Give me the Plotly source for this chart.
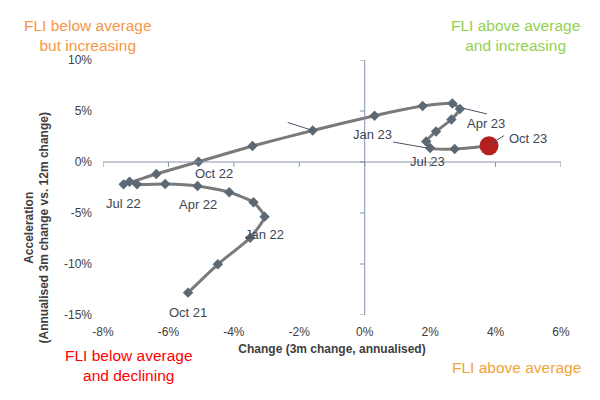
import plotly.graph_objects as go

# FLI momentum path, Oct 21 - Oct 23 (values in %)
months = ["Oct 21", "Nov 21", "Dec 21", "Jan 22", "Feb 22", "Mar 22", "Apr 22", "May 22",
          "Jun 22", "Jul 22", "Aug 22", "Sep 22", "Oct 22", "Nov 22", "Dec 22", "Jan 23",
          "Feb 23", "Mar 23", "Apr 23", "May 23", "Jun 23", "Jul 23", "Aug 23", "Sep 23",
          "Oct 23"]
change = [-5.40, -4.49, -3.50, -3.06, -3.40, -4.14, -5.11, -6.10, -6.96, -7.19, -7.37, -6.37,
          -5.08, -3.43, -1.59, 0.30, 1.77, 2.68, 2.91, 2.65, 2.18, 1.88, 2.00, 2.75, 3.80]
accel = [-12.81, -10.03, -7.42, -5.36, -3.95, -2.97, -2.35, -2.16, -2.19, -1.93, -2.19, -1.18,
         0.03, 1.57, 3.09, 4.54, 5.49, 5.74, 5.20, 4.17, 2.99, 2.01, 1.37, 1.27, 1.60]

x_ticks = [-8, -6, -4, -2, 0, 2, 4, 6]
y_ticks = [-15, -10, -5, 0, 5, 10]

# labelled months with pixel offsets (dx right, dy up)
labels = [("Oct 21", 0, -20), ("Jan 22", 0, -18), ("Apr 22", 0, -19), ("Jul 22", -6, -22),
          ("Oct 22", 15, -12), ("Jan 23", -2, -19), ("Apr 23", 26, -15), ("Jul 23", 1, -19.5),
          ("Oct 23", 39, 7)]
# leader lines: month, x0, y0, x1, y1 in pixels from the point
leaders = [("Dec 22", -25, 8, 0, 0), ("Aug 23", -37, 6, -3, 0),
           ("Apr 23", 2, 1, 27, -5), ("Oct 23", 2, 2, 15, 10)]

FONT = "Liberation Sans, Arial, sans-serif"
TXT = "#404040"
AXIS = "#8593a6"

# plot area in page pixels (page body adds an 8px offset)
OFF = 8
PL, PT, PW, PH = 103, 60, 458, 255


def px2paper(px, py):
    return (px - PL) / PW, (PT + PH - py) / PH


fig = go.Figure()
fig.add_trace(go.Scatter(
    x=change, y=accel, mode="lines+markers",
    line=dict(color="#7a7a7a", width=3, shape="spline", smoothing=0.5),
    marker=dict(symbol="diamond", size=8, color="#5d6875"),
    hoverinfo="skip", showlegend=False))
fig.add_trace(go.Scatter(
    x=[change[-1]], y=[accel[-1]], mode="markers",
    marker=dict(size=19, color="#b3201f"), hoverinfo="skip", showlegend=False))

# axis lines crossing at zero
fig.add_shape(type="line", x0=x_ticks[0], x1=x_ticks[-1], y0=0, y1=0,
              line=dict(color=AXIS, width=1))
fig.add_shape(type="line", x0=0, x1=0, y0=y_ticks[0], y1=y_ticks[-1],
              line=dict(color=AXIS, width=1))
for t in x_ticks:
    fig.add_shape(type="line", xref="x", yref="y", xsizemode="pixel", ysizemode="pixel",
                  xanchor=t, yanchor=0, x0=0, x1=0, y0=0, y1=-5,
                  line=dict(color=AXIS, width=1))
for t in y_ticks:
    fig.add_shape(type="line", xref="x", yref="y", xsizemode="pixel", ysizemode="pixel",
                  xanchor=0, yanchor=t, x0=-5, x1=0, y0=0, y1=0,
                  line=dict(color=AXIS, width=1))

for m, x0, y0, x1, y1 in leaders:
    i = months.index(m)
    fig.add_shape(type="line", xref="x", yref="y", xsizemode="pixel", ysizemode="pixel",
                  xanchor=change[i], yanchor=accel[i], x0=x0, x1=x1, y0=y0, y1=y1,
                  line=dict(color="#4a5563", width=1))

for m, dx, dy in labels:
    i = months.index(m)
    fig.add_annotation(x=change[i], y=accel[i], text=m, showarrow=False,
                       xshift=dx, yshift=dy, font=dict(family=FONT, size=13, color="#3e4654"))

# quadrant notes
quad = [("FLI below average<br>but increasing", 88, 36, "#f79646"),
        ("FLI above average<br>and increasing", 515, 36, "#92d050"),
        ("FLI below average<br>and declining", 129, 365, "#ff0000"),
        ("FLI above average", 516, 367, "#f2a33a")]
for txt, px, py, col in quad:
    qx, qy = px2paper(px, py)
    fig.add_annotation(x=qx, y=qy, xref="paper", yref="paper",
                       text=txt, showarrow=False, xanchor="center", yanchor="middle",
                       font=dict(family=FONT, size=15.5, color=col))

tx, ty = px2paper(36.5, 228)
fig.add_annotation(x=tx, y=ty, xref="paper", yref="paper", textangle=-90,
                   text="<b>Acceleration<br>(Annualised 3m change vs. 12m change)</b>",
                   showarrow=False, xanchor="center", yanchor="middle",
                   font=dict(family=FONT, size=12, color=TXT))

fig.update_layout(
    width=600, height=400,
    margin=dict(l=PL - OFF, r=600 - PL - PW + OFF, t=PT - OFF, b=400 - PT - PH + OFF,
                autoexpand=False),
    paper_bgcolor="white", plot_bgcolor="white",
    font=dict(family=FONT, size=12, color=TXT),
    xaxis=dict(range=[x_ticks[0], x_ticks[-1]], tickmode="array", tickvals=x_ticks,
               ticktext=[f"{t}%" for t in x_ticks],
               showgrid=False, zeroline=False, showline=False, ticklabelstandoff=8,
               title=dict(text="<b>Change (3m change, annualised)</b>", standoff=6,
                          font=dict(size=12, color=TXT))),
    yaxis=dict(range=[y_ticks[0], y_ticks[-1]], tickmode="array", tickvals=y_ticks,
               ticktext=[f"{t}%" for t in y_ticks],
               showgrid=False, zeroline=False, showline=False, ticklabelstandoff=10),
)

fig.write_html("out.html")
